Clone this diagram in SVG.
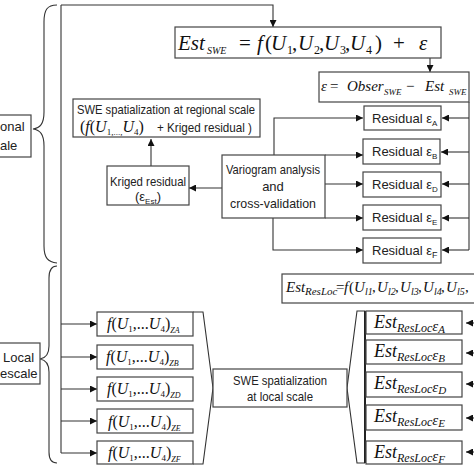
<svg xmlns="http://www.w3.org/2000/svg" width="474" height="474" viewBox="0 0 474 474">
<defs>
<style>
.box{fill:#fff;stroke:#444;stroke-width:1.2}
.ln{fill:none;stroke:#333;stroke-width:1.1}
.ar{fill:none;stroke:#333;stroke-width:1.1;marker-end:url(#ah)}
.t{font-family:"Liberation Sans",Arial,sans-serif;font-size:13px;fill:#222}
.m{font-family:"Liberation Serif","Times New Roman",serif;font-style:italic;fill:#111}
.r{font-family:"Liberation Serif","Times New Roman",serif;fill:#111}
.n{font-style:normal}
</style>
<marker id="ah" viewBox="0 0 10 10" refX="10" refY="5" markerWidth="7" markerHeight="7" markerUnits="userSpaceOnUse" orient="auto">
<path d="M0,0 L10,5 L0,10 z" fill="#111"/>
</marker>
</defs>
<rect width="474" height="474" fill="#fff"/>

<g id="connectors">
<path class="ln" d="M57,5 C47,5 44,10 44,22 L44,112 C44,124 40,128 33,129 C40,130 44,134 44,146 L44,246 C44,258 48,262 57,263"/>
<path class="ln" d="M57,266 C52,266 49,270 49,278 L49,346 C49,354 46,358 40,359 C46,360 49,364 49,372 L49,452 C49,460 52,463 57,463"/>
<path class="ln" d="M61,5 V453"/>
<path class="ar" d="M61,5 H273 V27"/>
<path class="ar" d="M61,324 H97"/>
<path class="ar" d="M61,357 H97"/>
<path class="ar" d="M61,389 H97"/>
<path class="ar" d="M61,421 H97"/>
<path class="ar" d="M61,453 H97"/>
<path class="ar" d="M430,58 V72"/>
<path class="ln" d="M469,102 V250"/>
<path class="ar" d="M469,118 H442"/>
<path class="ar" d="M469,152 H441"/>
<path class="ar" d="M469,184 H442"/>
<path class="ar" d="M469,218 H442"/>
<path class="ar" d="M469,250 H442"/>
<path class="ar" d="M274,155 V118 H363"/>
<path class="ar" d="M325,155 H363"/>
<path class="ar" d="M325,184 H363"/>
<path class="ar" d="M325,218 H363"/>
<path class="ar" d="M273,218 V250 H363"/>
<path class="ar" d="M222,188 H189"/>
<path class="ar" d="M151,166 V139"/>
<path class="ar" d="M474,323 H466"/>
<path class="ar" d="M474,353 H466"/>
<path class="ar" d="M474,384 H466"/>
<path class="ar" d="M474,418 H466"/>
<path class="ar" d="M474,452 H466"/>
<path class="ln" d="M193,312 H203 L213,388 L203,464 H193"/>
<path class="ln" d="M365,311 H357 L347,388 L357,463 H365"/>
<path d="M365,311 V463" stroke="#222" stroke-width="2"/>
</g>

<g id="regional-scale">
<rect class="box" x="-2" y="115" width="33" height="42"/>
<text class="t" x="0" y="131">onal</text>
<text class="t" x="0" y="150">ale</text>
</g>

<g id="local-scale">
<rect class="box" x="-2" y="343" width="42" height="41"/>
<text class="t" x="3" y="362">Local</text>
<text class="t" x="0" y="378">escale</text>
</g>

<g id="est-swe">
<rect class="box" x="175" y="27" width="266" height="31"/>
<text class="m" font-size="21" x="178" y="50">Est</text>
<text class="m" font-size="10" x="207" y="54">SWE</text>
<text class="r" font-size="21" x="239" y="50">=</text>
<text class="m" font-size="21" x="257" y="50">f</text>
<text class="r" font-size="21" x="265" y="50">(</text>
<text class="m" font-size="21" x="271" y="50">U</text>
<text class="r" font-size="12" x="287" y="54">1</text>
<text class="r" font-size="21" x="292" y="50">,</text>
<text class="m" font-size="21" x="298" y="50">U</text>
<text class="r" font-size="12" x="314" y="54">2</text>
<text class="r" font-size="21" x="319" y="50">,</text>
<text class="m" font-size="21" x="324" y="50">U</text>
<text class="r" font-size="12" x="340" y="54">3</text>
<text class="r" font-size="21" x="345" y="50">,</text>
<text class="m" font-size="21" x="350" y="50">U</text>
<text class="r" font-size="12" x="366" y="54">4</text>
<text class="r" font-size="21" x="375" y="50">)</text>
<text class="r" font-size="21" x="393" y="50">+</text>
<text class="m" font-size="21" x="419" y="50">ε</text>
</g>

<g id="epsilon">
<rect class="box" x="319" y="72" width="150" height="30"/>
<text class="m" font-size="15" x="321" y="91">ε</text>
<text class="r" font-size="15" x="330" y="91">=</text>
<text class="m" font-size="15" x="347" y="91">Obser</text>
<text class="m" font-size="9" x="384" y="95">SWE</text>
<text class="r" font-size="15" x="406" y="91">−</text>
<text class="m" font-size="15" x="425" y="91">Est</text>
<text class="m" font-size="9" x="449" y="95">SWE</text>
</g>

<g id="swe-regional">
<rect class="box" x="73" y="99" width="187" height="38"/>
<text class="t" x="77" y="114" textLength="178" lengthAdjust="spacingAndGlyphs">SWE spatialization at regional scale</text>
<text class="m" font-size="16" x="80" y="132"><tspan class="n">(</tspan>f<tspan class="n">(</tspan>U<tspan font-size="9" dy="3" class="n">1,...,</tspan><tspan dy="-3">U</tspan><tspan font-size="9" dy="3" class="n">4</tspan><tspan dy="-3" class="n">)</tspan></text>
<text class="t" x="157" y="132" textLength="95" lengthAdjust="spacingAndGlyphs">+ Kriged residual )</text>
</g>

<g id="kriged">
<rect class="box" x="107" y="166" width="82" height="39"/>
<text class="t" x="148" y="186" text-anchor="middle" textLength="76" lengthAdjust="spacingAndGlyphs">Kriged residual</text>
<text class="t" x="148" y="201" text-anchor="middle" font-size="12">(ε<tspan font-size="8" dy="3">Est</tspan><tspan dy="-3">)</tspan></text>
</g>

<g id="variogram">
<rect class="box" x="222" y="155" width="103" height="63"/>
<text class="t" x="273" y="174" text-anchor="middle" textLength="94" lengthAdjust="spacingAndGlyphs">Variogram analysis</text>
<text class="t" x="273" y="191" text-anchor="middle">and</text>
<text class="t" x="273" y="208" text-anchor="middle" textLength="86" lengthAdjust="spacingAndGlyphs">cross-validation</text>
</g>

<g id="residual-a">
<rect class="box" x="364" y="106" width="77" height="24"/>
<text class="t" x="372" y="123">Residual  ε<tspan font-size="8" dy="3">A</tspan></text>
</g>
<g id="residual-b">
<rect class="box" x="363" y="139" width="77" height="25"/>
<text class="t" x="372" y="156">Residual ε<tspan font-size="8" dy="3">B</tspan></text>
</g>
<g id="residual-d">
<rect class="box" x="363" y="172" width="78" height="25"/>
<text class="t" x="372" y="189">Residual  ε<tspan font-size="8" dy="3">D</tspan></text>
</g>
<g id="residual-e">
<rect class="box" x="363" y="205" width="78" height="25"/>
<text class="t" x="372" y="222">Residual  ε<tspan font-size="8" dy="3">E</tspan></text>
</g>
<g id="residual-f">
<rect class="box" x="363" y="238" width="78" height="25"/>
<text class="t" x="372" y="255">Residual  ε<tspan font-size="9" dy="3">F</tspan></text>
</g>

<g id="est-resloc">
<rect class="box" x="282" y="274" width="200" height="29"/>
<text class="m" font-size="15" x="286" y="292">Est</text>
<text class="m" font-size="11" x="305" y="295">ResLoc</text>
<text class="r" font-size="15" x="336" y="292">=</text>
<text class="m" font-size="15" x="344" y="292">f</text>
<text class="r" font-size="15" x="349" y="292">(</text>
<text class="m" font-size="15" x="354" y="292">U</text>
<text class="m" font-size="10" x="365" y="295">l1</text>
<text class="r" font-size="15" x="372" y="292">,</text>
<text class="m" font-size="15" x="377" y="292">U</text>
<text class="m" font-size="10" x="388" y="295">l2</text>
<text class="r" font-size="15" x="395" y="292">,</text>
<text class="m" font-size="15" x="400" y="292">U</text>
<text class="m" font-size="10" x="411" y="295">l3</text>
<text class="r" font-size="15" x="418" y="292">,</text>
<text class="m" font-size="15" x="423" y="292">U</text>
<text class="m" font-size="10" x="434" y="295">l4</text>
<text class="r" font-size="15" x="441" y="292">,</text>
<text class="m" font-size="15" x="446" y="292">U</text>
<text class="m" font-size="10" x="457" y="295">l5</text>
<text class="r" font-size="15" x="465" y="292">,</text>
</g>

<g id="f-za">
<rect class="box" x="97" y="312" width="96" height="24"/>
<text class="m" font-size="16" x="107" y="329">f<tspan class="n">(</tspan>U<tspan class="n" font-size="9" dy="3">1</tspan><tspan dy="-3" class="n">,...</tspan>U<tspan class="n" font-size="9" dy="3">4</tspan><tspan dy="-3" class="n">)</tspan><tspan font-size="8" dy="4">ZA</tspan></text>
</g>
<g id="f-zb">
<rect class="box" x="97" y="345" width="96" height="24"/>
<text class="m" font-size="16" x="106" y="362">f<tspan class="n">(</tspan>U<tspan class="n" font-size="9" dy="3">1</tspan><tspan dy="-3" class="n">,...</tspan>U<tspan class="n" font-size="9" dy="3">4</tspan><tspan dy="-3" class="n">)</tspan><tspan font-size="8" dy="4">ZB</tspan></text>
</g>
<g id="f-zd">
<rect class="box" x="97" y="377" width="96" height="24"/>
<text class="m" font-size="16" x="107" y="394">f<tspan class="n">(</tspan>U<tspan class="n" font-size="9" dy="3">1</tspan><tspan dy="-3" class="n">,...</tspan>U<tspan class="n" font-size="9" dy="3">4</tspan><tspan dy="-3" class="n">)</tspan><tspan font-size="8" dy="4">ZD</tspan></text>
</g>
<g id="f-ze">
<rect class="box" x="97" y="409" width="96" height="24"/>
<text class="m" font-size="16" x="108" y="427">f<tspan class="n">(</tspan>U<tspan class="n" font-size="9" dy="3">1</tspan><tspan dy="-3" class="n">,...</tspan>U<tspan class="n" font-size="9" dy="3">4</tspan><tspan dy="-3" class="n">)</tspan><tspan font-size="8" dy="4">ZE</tspan></text>
</g>
<g id="f-zf">
<rect class="box" x="97" y="441" width="96" height="23"/>
<text class="m" font-size="16" x="108" y="458">f<tspan class="n">(</tspan>U<tspan class="n" font-size="9" dy="3">1</tspan><tspan dy="-3" class="n">,...</tspan>U<tspan class="n" font-size="9" dy="3">4</tspan><tspan dy="-3" class="n">)</tspan><tspan font-size="8" dy="4">ZF</tspan></text>
</g>

<g id="swe-local">
<rect class="box" x="213" y="369" width="134" height="38"/>
<text class="t" x="280" y="385" text-anchor="middle" textLength="94" lengthAdjust="spacingAndGlyphs">SWE spatialization</text>
<text class="t" x="280" y="401" text-anchor="middle" textLength="66" lengthAdjust="spacingAndGlyphs">at local scale</text>
</g>

<g id="resloc-a">
<rect class="box" x="366" y="311" width="96" height="23"/>
<text class="m" font-size="18" x="374" y="328">Est<tspan font-size="12" dy="4">ResLoc</tspan><tspan dy="-1" font-size="15">ε</tspan><tspan font-size="11" dy="2">A</tspan></text>
</g>
<g id="resloc-b">
<rect class="box" x="366" y="340" width="96" height="24"/>
<text class="m" font-size="18" x="374" y="357">Est<tspan font-size="12" dy="4">ResLoc</tspan><tspan dy="-1" font-size="15">ε</tspan><tspan font-size="11" dy="2">B</tspan></text>
</g>
<g id="resloc-d">
<rect class="box" x="366" y="372" width="96" height="25"/>
<text class="m" font-size="18" x="374" y="389">Est<tspan font-size="12" dy="4">ResLoc</tspan><tspan dy="-1" font-size="15">ε</tspan><tspan font-size="11" dy="2">D</tspan></text>
</g>
<g id="resloc-e">
<rect class="box" x="366" y="405" width="96" height="25"/>
<text class="m" font-size="18" x="374" y="422">Est<tspan font-size="12" dy="4">ResLoc</tspan><tspan dy="-1" font-size="15">ε</tspan><tspan font-size="11" dy="2">E</tspan></text>
</g>
<g id="resloc-f">
<rect class="box" x="366" y="441" width="96" height="23"/>
<text class="m" font-size="18" x="374" y="458">Est<tspan font-size="12" dy="4">ResLoc</tspan><tspan dy="-1" font-size="15">ε</tspan><tspan font-size="11" dy="2">F</tspan></text>
</g>
</svg>
